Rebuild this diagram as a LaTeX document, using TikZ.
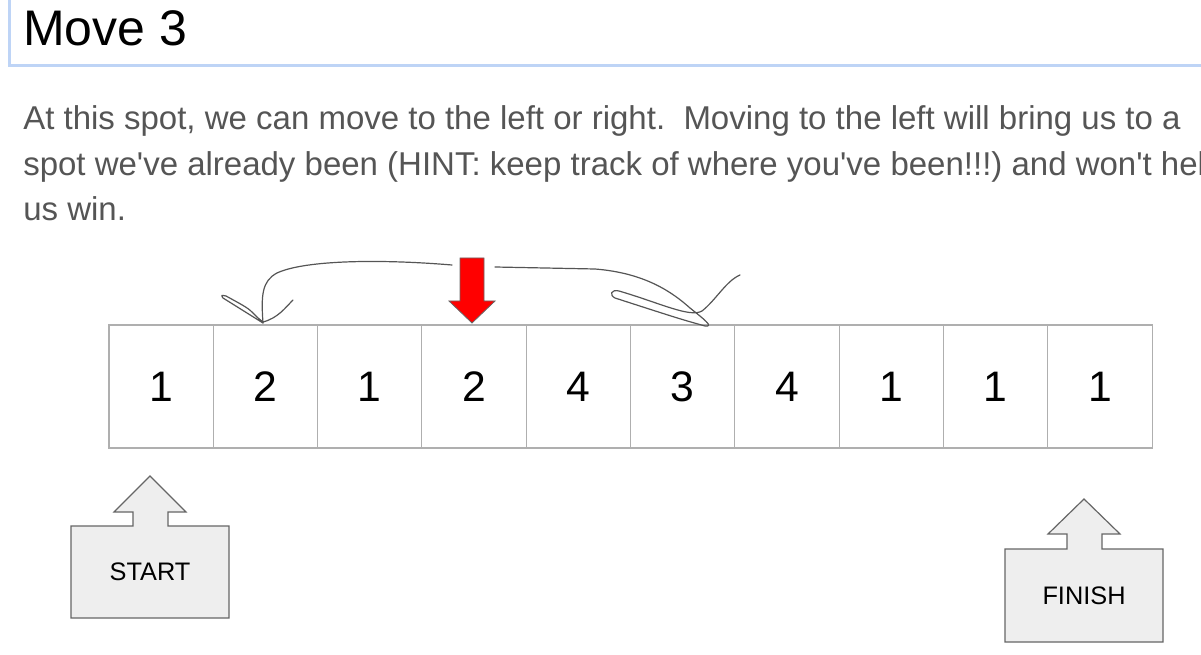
\documentclass[tikz,border=0pt]{standalone}
\usepackage{fontspec}
\newfontfamily\docfont{Liberation Sans}
\usepackage{tikz}
\usetikzlibrary{positioning}

\definecolor{textgray}{RGB}{85,85,85}
\definecolor{cellgray}{RGB}{175,175,175}
\definecolor{edgegray}{RGB}{102,102,102}
\definecolor{boxgray}{RGB}{238,238,238}
\definecolor{sketchgray}{RGB}{85,85,85}
\definecolor{barblue}{RGB}{190,212,246}

\tikzstyle{heading} = [anchor=base west, inner sep=0pt, text=black, font=\docfont\fontsize{37.5}{45}\selectfont]
\tikzstyle{para} = [anchor=base west, inner sep=0pt, text=textgray, font=\docfont\fontsize{24.75}{34}\selectfont]
\tikzstyle{cell} = [rectangle, minimum width=78.23pt, minimum height=92.25pt, inner sep=0pt, draw=cellgray, line width=0.8pt, font=\docfont\fontsize{32}{38}\selectfont]
\tikzstyle{block} = [draw=edgegray, fill=boxgray, line width=0.9pt, line join=miter]
\tikzstyle{blocklabel} = [inner sep=0pt, font=\docfont\fontsize{19}{23}\selectfont]
\tikzstyle{marker} = [draw=edgegray, fill=red, line width=0.6pt]
\tikzstyle{sketch} = [draw=sketchgray, line width=0.9pt, line cap=round, line join=round]

\begin{document}
\frenchspacing
\begin{tikzpicture}[x=0.75pt, y=-0.75pt, node distance=78.23pt]
\useasboundingbox (0,0) rectangle (1201,655);

% title bar
\draw[barblue, line width=2.25pt] (9.5,0) -- (9.5,65.5) -- (1201,65.5);
\node (title) [heading] at (23,46) {Move 3};

\node (line1) [para] at (23,130) {At this spot, we can move to the left or right.~ Moving to the left will bring us to a};
\node (line2) [para] at (23,175.5) {spot we've already been (HINT: keep track of where you've been!!!) and won't hel};
\node (line3) [para] at (23,221) {us win.};

% board
\node (c1) [cell] at (161.15,386.5) {1};
\node (c2) [cell, right of=c1] {2};
\node (c3) [cell, right of=c2] {1};
\node (c4) [cell, right of=c3] {2};
\node (c5) [cell, right of=c4] {4};
\node (c6) [cell, right of=c5] {3};
\node (c7) [cell, right of=c6] {4};
\node (c8) [cell, right of=c7] {1};
\node (c9) [cell, right of=c8] {1};
\node (c10) [cell, right of=c9] {1};

% current position
\draw[marker] (460,258) -- (484,258) -- (484,301) -- (495,301) -- (472,323) -- (449,301) -- (460,301) -- cycle;

% hand drawn moves
\draw[sketch] (452,265) .. controls (380,259) and (305,260) .. (277,273) .. controls (262,281) and (261,295) .. (263,323);
\draw[sketch] (263,323) .. controls (255,318) .. (223,298) .. controls (221,295) .. (226,296) .. controls (248,308) .. (255,315) .. controls (258,318) .. (263,322);
\draw[sketch] (263,322) .. controls (278,318) and (285,308) .. (293,300);
\draw[sketch] (495,267) -- (595,269) .. controls (645,273) and (672,292) .. (690,308) .. controls (705,320) and (714,327) .. (705,326) .. controls (680,319) .. (615,298) .. controls (609,295) and (611,289) .. (619,291) .. controls (660,303) and (690,318) .. (702,311) .. controls (716,300) and (726,281) .. (740,275);

% start and finish
\draw[block] (71,618) -- (71,526) -- (133,526) -- (133,512) -- (114,512) -- (150,476) -- (186,512) -- (168,512) -- (168,526) -- (229,526) -- (229,618) -- cycle;
\node (start) [blocklabel] at (150,572) {START};
\draw[block] (1005,642) -- (1005,549) -- (1067,549) -- (1067,534) -- (1048,534) -- (1084,499) -- (1120,534) -- (1102,534) -- (1102,549) -- (1163,549) -- (1163,642) -- cycle;
\node (finish) [blocklabel] at (1084,596) {FINISH};

\end{tikzpicture}
\end{document}
